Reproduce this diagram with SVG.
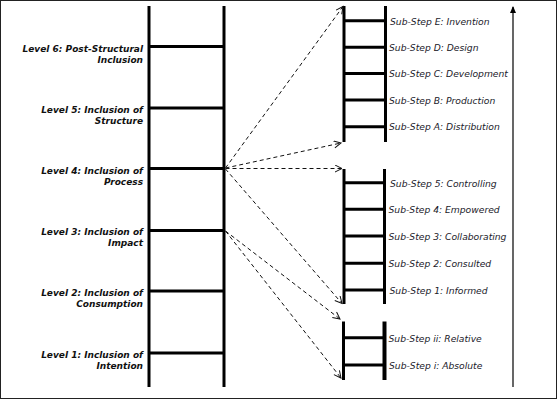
<svg xmlns="http://www.w3.org/2000/svg" width="558" height="400" viewBox="0 0 558 400">
<style>
.rail{stroke:#000;stroke-width:3;fill:none}
.rung{stroke:#000;stroke-width:3;fill:none}
.lvl{font-family:"DejaVu Sans",Verdana,sans-serif;font-size:9px;font-weight:bold;font-style:italic;fill:#111;text-anchor:end}
.sub{font-family:"DejaVu Sans",Verdana,sans-serif;font-size:9.2px;font-style:italic;fill:#1a1a2a}
.dash{stroke:#111;stroke-width:1;stroke-dasharray:4 3;fill:none;marker-end:url(#open)}
</style>
<defs>
<marker id="open" markerUnits="userSpaceOnUse" markerWidth="10" markerHeight="10" refX="8" refY="4" orient="auto">
<path d="M1,0.5 L8,4 L1,7.5" fill="none" stroke="#111" stroke-width="1"/>
</marker>
<marker id="solid" markerUnits="userSpaceOnUse" markerWidth="8" markerHeight="8" refX="6" refY="3" orient="auto">
<path d="M0,0 L7,3 L0,6 Z" fill="#000"/>
</marker>
</defs>
<rect x="0.5" y="0.5" width="556" height="398" fill="#fff" stroke="#222" stroke-width="1"/>

<g id="main-ladder">
<line class="rail" x1="149" y1="6" x2="149" y2="387"/>
<line class="rail" x1="224" y1="6" x2="224" y2="387"/>
</g>
<g id="level6">
<line class="rung" x1="149" y1="46.5" x2="224" y2="46.5"/>
<text class="lvl" x="143" y="51.5">Level 6: Post-Structural</text>
<text class="lvl" x="143" y="62.5">Inclusion</text>
</g>
<g id="level5">
<line class="rung" x1="149" y1="108" x2="224" y2="108"/>
<text class="lvl" x="143" y="113">Level 5: Inclusion of</text>
<text class="lvl" x="143" y="124">Structure</text>
</g>
<g id="level4">
<line class="rung" x1="149" y1="168.5" x2="224" y2="168.5"/>
<text class="lvl" x="143" y="173.5">Level 4: Inclusion of</text>
<text class="lvl" x="143" y="184.5">Process</text>
</g>
<g id="level3">
<line class="rung" x1="149" y1="230.5" x2="224" y2="230.5"/>
<text class="lvl" x="143" y="235">Level 3: Inclusion of</text>
<text class="lvl" x="143" y="246">Impact</text>
</g>
<g id="level2">
<line class="rung" x1="149" y1="291" x2="224" y2="291"/>
<text class="lvl" x="143" y="295.5">Level 2: Inclusion of</text>
<text class="lvl" x="143" y="306.5">Consumption</text>
</g>
<g id="level1">
<line class="rung" x1="149" y1="353" x2="224" y2="353"/>
<text class="lvl" x="143" y="357.5">Level 1: Inclusion of</text>
<text class="lvl" x="143" y="368.5">Intention</text>
</g>

<g id="ladder-top">
<line class="rail" x1="344" y1="6" x2="344" y2="142"/>
<line class="rail" x1="385.5" y1="6" x2="385.5" y2="142"/>
<g id="substep-E"><line class="rung" x1="344" y1="20.7" x2="385.5" y2="20.7"/><text class="sub" x="390" y="24.5">Sub-Step E: Invention</text></g>
<g id="substep-D"><line class="rung" x1="344" y1="47.3" x2="385.5" y2="47.3"/><text class="sub" x="389" y="51">Sub-Step D: Design</text></g>
<g id="substep-C"><line class="rung" x1="344" y1="73.5" x2="385.5" y2="73.5"/><text class="sub" x="389" y="77">Sub-Step C: Development</text></g>
<g id="substep-B"><line class="rung" x1="344" y1="100" x2="385.5" y2="100"/><text class="sub" x="389" y="103.5">Sub-Step B: Production</text></g>
<g id="substep-A"><line class="rung" x1="344" y1="126.7" x2="385.5" y2="126.7"/><text class="sub" x="389" y="130">Sub-Step A: Distribution</text></g>
</g>

<g id="ladder-middle">
<line class="rail" x1="344" y1="169" x2="344" y2="304"/>
<line class="rail" x1="384.5" y1="169" x2="384.5" y2="304"/>
<g id="substep-5"><line class="rung" x1="344" y1="182.7" x2="384.5" y2="182.7"/><text class="sub" x="390" y="186.5">Sub-Step 5: Controlling</text></g>
<g id="substep-4"><line class="rung" x1="344" y1="209.3" x2="384.5" y2="209.3"/><text class="sub" x="388.5" y="213">Sub-Step 4: Empowered</text></g>
<g id="substep-3"><line class="rung" x1="344" y1="236" x2="384.5" y2="236"/><text class="sub" x="388.5" y="239.5">Sub-Step 3: Collaborating</text></g>
<g id="substep-2"><line class="rung" x1="344" y1="263.3" x2="384.5" y2="263.3"/><text class="sub" x="388.5" y="267">Sub-Step 2: Consulted</text></g>
<g id="substep-1"><line class="rung" x1="344" y1="290" x2="384.5" y2="290"/><text class="sub" x="389.5" y="293.5">Sub-Step 1: Informed</text></g>
</g>

<g id="ladder-bottom">
<line class="rail" x1="343.5" y1="321.5" x2="343.5" y2="380"/>
<line x1="384.5" y1="321.5" x2="384.5" y2="380" stroke="#000" stroke-width="4"/>
<g id="substep-ii"><line class="rung" x1="343.5" y1="337.7" x2="384.5" y2="337.7"/><text class="sub" x="388.5" y="341.5">Sub-Step ii: Relative</text></g>
<g id="substep-i"><line class="rung" x1="343.5" y1="365" x2="384.5" y2="365"/><text class="sub" x="389" y="368.5">Sub-Step i: Absolute</text></g>
</g>

<g id="connectors">
<line class="dash" x1="225.5" y1="168" x2="343" y2="6.5"/>
<line class="dash" x1="225.5" y1="168" x2="341" y2="143"/>
<line class="dash" x1="225.5" y1="168.5" x2="342" y2="168.5"/>
<line class="dash" x1="225.5" y1="169" x2="342" y2="303.5"/>
<line class="dash" x1="225.5" y1="231" x2="340" y2="319"/>
<line class="dash" x1="225.5" y1="231" x2="341" y2="378"/>
<line x1="513" y1="387" x2="513" y2="7" stroke="#000" stroke-width="1.2" marker-end="url(#solid)"/>
</g>
</svg>
